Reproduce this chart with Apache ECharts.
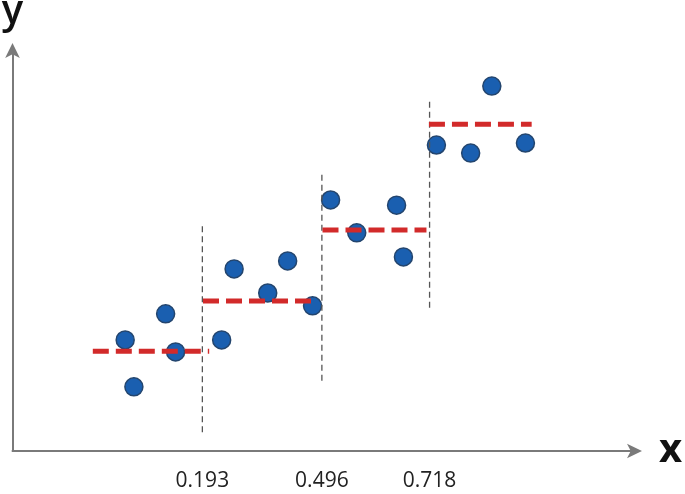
<!DOCTYPE html>
<html>
<head>
<meta charset="utf-8">
<script src="https://cdn.jsdelivr.net/npm/echarts@6/dist/echarts.min.js"></script>
<style>
html,body{margin:0;padding:0;background:#fff;}
#chart{width:685px;height:494px;}
</style>
</head>
<body>
<div id="chart"></div>
<script>
// Scatter points [x, y] (arbitrary units, axis spans 0..10 on both)
var points = [
  [1.81, 2.77], [1.95, 1.60], [2.46, 3.42], [2.62, 2.47],
  [3.36, 2.77], [3.56, 4.54], [4.10, 3.94], [4.42, 4.74], [4.82, 3.62],
  [5.11, 6.26], [5.53, 5.44], [6.17, 6.13], [6.28, 4.84],
  [6.81, 7.63], [7.36, 7.43], [7.70, 9.10], [8.24, 7.68]
];
// Piecewise-constant segment means: [xStart, xEnd, y]
var segments = [
  [1.29, 3.16, 2.49],
  [3.06, 4.90, 3.74],
  [4.98, 6.65, 5.51],
  [6.69, 8.34, 8.15]
];
// Split lines: [x, yBottom, yTop]
var splits = [
  [3.05, 0.47, 5.61],
  [4.97, 1.75, 6.93],
  [6.70, 3.57, 8.73]
];
var tickLabels = ['0.193', '0.496', '0.718'];
var tickPositions = splits.map(function (s) { return s[0]; });

var series = [];
series.push({
  type: 'scatter',
  data: points,
  symbolSize: 18,
  itemStyle: { color: '#1a5fb0', borderColor: '#23456e', borderWidth: 1.5, opacity: 1 },
  z: 2
});
splits.forEach(function (s) {
  series.push({
    type: 'line',
    data: [[s[0], s[1]], [s[0], s[2]]],
    symbol: 'none',
    lineStyle: { color: '#555', width: 1.3, type: [6, 4] },
    z: 3, silent: true
  });
});
segments.forEach(function (s) {
  series.push({
    type: 'line',
    data: [[s[0], s[2]], [s[1], s[2]]],
    symbol: 'none',
    lineStyle: { color: '#d22a2a', width: 5, type: [16, 7] },
    z: 4, silent: true
  });
});

var chart = echarts.init(document.getElementById('chart'));
chart.setOption({
  animation: false,
  grid: { left: 12.5, right: 50, top: 50, bottom: 43, containLabel: false, outerBoundsMode: 'none' },
  xAxis: {
    type: 'value', min: 0, max: 10,
    name: 'x', nameLocation: 'end', nameGap: 24,
    nameTextStyle: { fontFamily: 'Open Sans', fontSize: 40, fontWeight: 'bold', color: '#111', verticalAlign: 'middle' },
    axisLine: { show: true, symbol: ['none', 'arrow'], symbolSize: [11, 15], symbolOffset: [0, 7], lineStyle: { color: '#7a7a7a', width: 2 } },
    axisTick: { show: false },
    splitLine: { show: false },
    axisLabel: {
      customValues: tickPositions,
      margin: 20,
      fontFamily: 'Open Sans', fontSize: 21, color: '#222',
      formatter: function (v) {
        var i = tickPositions.indexOf(v);
        return i >= 0 ? tickLabels[i] : '';
      }
    }
  },
  yAxis: {
    type: 'value', min: 0, max: 10,
    name: 'y', nameLocation: 'end', nameGap: 18,
    nameTextStyle: { fontFamily: 'Open Sans', fontSize: 40, fontWeight: 600, color: '#111', align: 'center' },
    axisLine: { show: true, symbol: ['none', 'arrow'], symbolSize: [11, 15], symbolOffset: [0, 7], lineStyle: { color: '#7a7a7a', width: 2 } },
    axisTick: { show: false },
    splitLine: { show: false },
    axisLabel: { show: false }
  },
  series: series
});
</script>
</body>
</html>
